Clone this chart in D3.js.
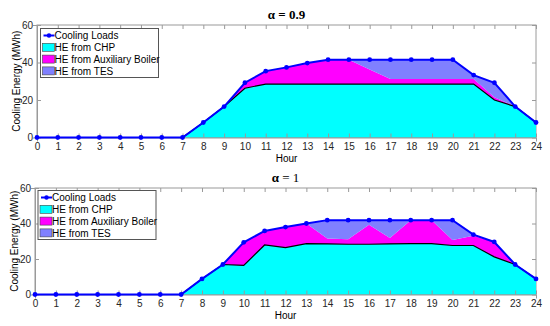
<!DOCTYPE html>
<meta charset="utf-8">
<style>
body { margin: 0; background: #fff; }
svg text { font-family: "Liberation Sans", Arial, sans-serif; }
.tick text { font-size: 10px; fill: #262626; }
.title { font-family: "Liberation Serif", "Times New Roman", serif !important; fill: #000; }
.lg text { font-size: 10px; fill: #000; }
</style>
<body>
<script src="https://cdn.jsdelivr.net/npm/d3@7"></script>
<script>
// hours on the x axis
var hours = d3.range(0, 25);
var yTicks = [0, 20, 40, 60];

// alpha = 0.9
var load09 = [0,0,0,0,0,0,0,0,8,16.5,29.2,35.4,37.4,39.7,41.5,41.5,41.5,41.5,41.5,41.5,41.5,33.3,29.2,16.5,8];
var chp09  = [0,0,0,0,0,0,0,0,8,16.5,26.3,28.5,28.5,28.5,28.5,28.5,28.5,28.5,28.5,28.5,28.5,28.5,20,16.5,8];
var aux09  = [0,0,0,0,0,0,0,0,0,0,2.9,6.9,8.9,11.2,13,13,7.8,2.7,2.7,2.7,2.7,2.7,1.5,0,0];
var tes09  = [0,0,0,0,0,0,0,0,0,0,0,0,0,0,0,0,5.2,10.3,10.3,10.3,10.3,2.1,7.7,0,0];

// alpha = 1
var load1 = [0,0,0,0,0,0,0,0,8.8,16.9,29.4,35.8,38.0,40.0,41.9,41.9,41.9,41.9,41.9,41.9,41.9,33.7,29.6,16.9,8.8];
var chp1  = [0,0,0,0,0,0,0,0,8.8,16.9,16.4,27.9,26.4,28.7,28.5,28.3,28.3,28.5,28.7,28.7,27.6,27.6,21.2,16.9,8.8];
var aux1  = [0,0,0,0,0,0,0,0,0,0,13.0,7.9,11.6,11.3,3.0,2.8,11.0,3.3,13.2,13.2,3.1,5.5,8.4,0,0];
var tes1  = [0,0,0,0,0,0,0,0,0,0,0,0,0,0,10.4,10.8,2.6,10.1,0,0,11.2,0.6,0,0,0];

var names = ["Cooling Loads", "HE from CHP", "HE from Auxiliary Boiler", "HE from TES"];
var colors = {chp: "#00ffff", aux: "#ff00ff", tes: "#8080ff", load: "#0000ff"};

var svg = d3.select("body").append("svg")
    .attr("width", 550)
    .attr("height", 326);

function panel(p) {
  var x = d3.scaleLinear().domain([0, 24]).range([p.left, p.right]);
  var y = d3.scaleLinear().domain([0, 60]).range([p.bottom, p.top]);
  var g = svg.append("g");

  var rows = hours.map(function(h, i) {
    return {h: h, chp: p.chp[i], aux: p.aux[i], tes: p.tes[i]};
  });
  var stack = d3.stack().keys(["chp", "aux", "tes"])(rows);

  var area = d3.area()
      .x(function(d) { return x(d.data.h); })
      .y0(function(d) { return y(d[0]); })
      .y1(function(d) { return y(d[1]); });

  // frame (grey, matlab style)
  g.append("rect")
      .attr("x", p.left).attr("y", p.top)
      .attr("width", p.right - p.left).attr("height", p.bottom - p.top)
      .attr("fill", "none").attr("stroke", "#9a9a9a");

  // ticks at top and right
  g.append("g")
      .attr("transform", "translate(0," + p.top + ")")
      .call(d3.axisTop(x).tickValues(hours).tickSize(-4).tickFormat(""))
      .call(function(a) { a.select(".domain").remove(); a.selectAll("line").attr("stroke", "#9a9a9a"); });
  g.append("g")
      .attr("transform", "translate(" + p.right + ",0)")
      .call(d3.axisRight(y).tickValues(yTicks).tickSize(-4).tickFormat(""))
      .call(function(a) { a.select(".domain").remove(); a.selectAll("line").attr("stroke", "#9a9a9a"); });

  g.selectAll(".lay")
      .data(stack)
    .enter().append("path")
      .attr("class", "lay")
      .attr("d", area)
      .attr("fill", function(d) { return colors[d.key]; })
      .attr("stroke", "none");

  // black edge on top of CHP
  g.append("path")
      .datum(p.chp)
      .attr("d", d3.line().x(function(d, i) { return x(hours[i]); }).y(function(d) { return y(d); }))
      .attr("fill", "none").attr("stroke", "#000").attr("stroke-width", 1.2);

  // bottom and left axes
  g.append("g")
      .attr("transform", "translate(0," + p.bottom + ")")
      .call(d3.axisBottom(x).tickValues(hours).tickSize(4).tickPadding(1))
      .call(function(a) {
        a.select(".domain").attr("stroke", "#9a9a9a");
        a.selectAll("line").attr("stroke", "#9a9a9a").attr("y1", -4).attr("y2", 0);
      });
  g.append("g")
      .attr("transform", "translate(" + p.left + ",0)")
      .call(d3.axisLeft(y).tickValues(yTicks).tickSize(4).tickPadding(0))
      .call(function(a) {
        a.select(".domain").attr("stroke", "#9a9a9a");
        a.selectAll("line").attr("stroke", "#9a9a9a").attr("x1", 4).attr("x2", 0);
      });

  // cooling loads line + markers
  var line = d3.line().x(function(d, i) { return x(hours[i]); }).y(function(d) { return y(d); });
  g.append("path")
      .datum(p.load)
      .attr("d", line)
      .attr("fill", "none").attr("stroke", colors.load).attr("stroke-width", 2);
  g.selectAll(".pt")
      .data(p.load)
    .enter().append("circle")
      .attr("cx", function(d, i) { return x(hours[i]); })
      .attr("cy", function(d) { return y(d); })
      .attr("r", 2.4)
      .attr("fill", colors.load);

  // title
  var t = svg.append("text")
      .attr("class", "title")
      .attr("x", (p.left + p.right) / 2)
      .attr("y", p.top - 6)
      .attr("text-anchor", "middle")
      .style("font-size", p.titleSize + "px");
  t.append("tspan").attr("font-weight", "bold").text("α");
  t.append("tspan").attr("font-weight", p.boldRest ? "bold" : "normal").text(" = " + p.alpha);

  // axis labels
  svg.append("text")
      .attr("x", (p.left + p.right) / 2)
      .attr("y", p.bottom + 24.5)
      .attr("text-anchor", "middle")
      .style("font-size", "10px")
      .text("Hour");
  svg.append("text")
      .attr("transform", "translate(" + (p.left - 17) + "," + ((p.top + p.bottom) / 2) + ") rotate(-90)")
      .attr("text-anchor", "middle")
      .style("font-size", "10px")
      .text("Cooling Energy (MWh)");

  // legend
  var lg = svg.append("g").attr("class", "lg")
      .attr("transform", "translate(" + p.legX + "," + p.legY + ")");
  lg.append("rect")
      .attr("width", 118).attr("height", 49)
      .attr("fill", "#fff").attr("stroke", "#555");
  names.forEach(function(n, i) {
    var cy = 7 + i * 11.8;
    if (i === 0) {
      lg.append("line").attr("x1", 3).attr("x2", 14).attr("y1", cy).attr("y2", cy)
          .attr("stroke", colors.load).attr("stroke-width", 2);
      lg.append("circle").attr("cx", 8.5).attr("cy", cy).attr("r", 2.2).attr("fill", colors.load);
    } else {
      lg.append("rect").attr("x", 2).attr("y", cy - 4).attr("width", 12).attr("height", 8)
          .attr("fill", colors[["chp", "aux", "tes"][i - 1]]).attr("stroke", "#444").attr("stroke-width", 0.6);
    }
    lg.append("text").attr("x", 14).attr("y", cy + 3.6).text(n);
  });
}

panel({left: 37, right: 536, top: 25, bottom: 137.5, alpha: "0.9", boldRest: true, titleSize: 13,
       load: load09, chp: chp09, aux: aux09, tes: tes09, legX: 40.5, legY: 28.5});
panel({left: 35, right: 536, top: 188, bottom: 294.5, alpha: "1", boldRest: false, titleSize: 13,
       load: load1, chp: chp1, aux: aux1, tes: tes1, legX: 38, legY: 190.5});
</script>
</body>
